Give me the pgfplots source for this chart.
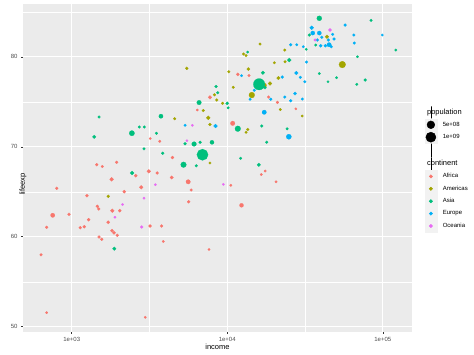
\documentclass[border=0pt]{standalone}
\usepackage{fontspec}
\setmainfont{Liberation Sans}
\usepackage{pgfplots}
\usepackage{pgfplotstable}
\pgfplotsset{compat=1.18}
\definecolor{afr}{HTML}{F8766D}
\definecolor{ame}{HTML}{A3A500}
\definecolor{asi}{HTML}{00BF7D}
\definecolor{eur}{HTML}{00B0F6}
\definecolor{oce}{HTML}{E76BF3}
\definecolor{panel}{HTML}{EBEBEB}
\definecolor{keybg}{HTML}{F2F2F2}
\definecolor{gthirty}{HTML}{4D4D4D}
\definecolor{gtwenty}{HTML}{333333}

% lx = log10(income), ly = life expectancy, pop = population (millions)
\pgfplotstableread{
lx ly pop
4.068 78.04 20
4.140 77.91 5
3.889 75.49 35
4.266 75.52 6
4.323 74.93 10
4.441 74.21 1
3.808 74.08 1
4.035 72.60 90
3.505 70.91 1
3.566 70.60 5
3.648 68.80 15
3.289 68.27 10
3.161 68.00 10
3.197 67.80 5
3.412 66.78 15
3.496 67.27 45
3.550 67.08 10
3.643 66.58 27
3.257 66.38 50
3.749 66.10 80
3.768 65.19 5
4.023 65.71 2
4.314 66.10 2
4.219 66.91 2
4.244 67.30 2
2.904 65.38 10
3.338 65.00 15
3.447 65.49 40
3.098 64.56 15
3.752 63.88 10
3.165 63.38 10
3.174 63.08 10
3.261 62.89 40
3.309 62.89 15
2.878 62.38 75
2.983 62.49 10
3.109 61.89 15
3.235 61.60 20
2.839 61.04 10
3.055 61.00 10
3.081 61.11 15
3.504 61.19 15
3.578 61.19 10
3.259 60.67 15
3.272 60.44 20
3.293 60.16 10
3.176 59.97 10
3.193 59.71 10
3.589 59.47 2
4.092 63.49 55
3.883 58.58 1
2.803 57.99 5
2.839 51.56 2
3.473 51.04 1
}\africa

\pgfplotstableread{
lx ly pop
3.740 78.71 11
4.105 80.30 5
4.121 80.13 3
4.211 81.41 4
4.370 80.74 5
4.372 79.44 5
4.303 79.33 3
4.010 78.33 5
4.136 78.63 18
4.039 76.60 5
4.237 76.80 125
4.275 77.02 43
4.158 75.74 205
3.918 75.77 5
3.933 75.19 7
3.970 74.82 6
3.846 74.02 6
3.878 73.21 48
3.889 72.47 10
3.662 73.11 5
4.132 71.91 7
4.121 71.60 3
4.341 74.13 3
4.482 73.41 1
4.329 77.63 31
4.740 79.13 320
3.889 68.19 1
3.235 64.49 10
4.641 82.22 36
}\americas

\pgfplotstableread{
lx ly pop
4.592 84.27 127
4.925 84.04 5
4.528 82.41 8
4.569 81.30 4
4.508 80.82 1
5.084 80.74 2
4.837 80.00 1
4.399 79.63 50
4.131 80.52 1
4.229 78.22 30
4.592 78.13 4
4.703 77.67 3
4.648 77.22 1
4.887 77.41 9
4.833 76.93 4
4.205 76.94 1370
4.243 76.56 10
3.928 76.69 10
3.939 76.00 5
4.000 74.82 20
4.006 74.32 3
3.819 74.91 92
4.222 72.30 5
4.385 71.99 4
4.068 72.00 200
4.254 70.50 5
3.574 73.39 70
3.435 72.19 5
3.467 72.19 5
3.176 73.30 5
3.387 71.50 160
3.545 71.49 5
3.145 71.10 30
3.465 69.77 5
3.585 69.27 10
3.729 70.33 8
3.787 70.30 100
3.826 70.49 10
3.902 70.49 60
3.841 69.11 1310
3.719 68.00 190
3.801 67.88 5
3.388 67.08 50
4.086 68.71 5
4.203 67.99 30
3.274 58.67 30
}\asia

\pgfplotstableread{
lx ly pop
4.758 83.52 8
4.543 83.22 46
4.550 82.63 64
4.592 82.63 64
4.678 82.49 5
4.997 82.41 1
4.814 82.41 5
4.608 82.16 10
4.579 81.86 11
4.650 81.86 9
4.687 81.97 8
4.601 81.22 17
4.631 81.22 10
4.655 81.33 81
4.669 81.11 5
4.817 81.52 5
4.408 81.33 10
4.447 81.33 2
4.489 81.11 2
4.510 79.41 5
4.354 77.74 10
4.444 78.19 38
4.470 77.71 5
4.499 77.22 5
4.174 76.27 5
4.147 75.27 3
4.280 75.28 7
4.370 75.52 5
4.436 75.91 20
4.408 75.11 10
4.483 75.30 4
4.238 73.83 78
4.092 77.89 3
3.729 72.38 4
3.925 72.30 45
4.396 71.11 143
}\europe

\pgfplotstableread{
lx ly pop
4.661 82.97 24
4.565 81.86 5
3.776 72.38 1
3.741 70.67 1
3.975 65.82 1
3.538 65.78 1
3.465 64.28 1
3.327 63.58 1
3.278 62.16 1
3.450 61.08 8
}\oceania

\pgfplotsset{
  ctry/.style={scatter, only marks, mark=*, forget plot, line width=0.2pt,
    scatter/use mapped color={draw=#1, fill=#1},
    visualization depends on={1.1+4.7*sqrt(\thisrow{pop}/1400) \as \msz},
    scatter/@pre marker code/.append style={/tikz/mark size=\msz}},
  keyimg/.style 2 args={legend image code/.code={
    \fill[keybg] (-6pt,-6pt) rectangle (6pt,6pt);
    \fill[#1] (0,0) circle (#2);}},
  titleimg/.style={legend image code/.code={\path (0,-6pt) rectangle (0,6pt);}},
}

\begin{document}
\begin{tikzpicture}
\useasboundingbox (-23pt,-23pt) rectangle (451pt,332pt);
\begin{axis}[
  at={(0,0)}, anchor=south west,
  scale only axis, width=389pt, height=328pt,
  xmin=2.687, xmax=5.188, ymin=49.41, ymax=85.86,
  axis background/.style={fill=panel},
  axis line style={draw=none},
  xtick={3,4,5}, xticklabels={1e+03,1e+04,1e+05},
  ytick={50,60,70,80}, yticklabels={50,60,70,80},
  minor xtick={3.5,4.5}, minor ytick={55,65,75,85},
  grid=both,
  major grid style={white, line width=0.75pt},
  minor grid style={white, line width=0.35pt},
  xtick pos=bottom, ytick pos=left,
  tick align=outside, major tick length=1.9pt, minor tick length=0pt,
  tick style={gtwenty, line width=0.4pt},
  ticklabel style={font=\fontsize{6}{7}\selectfont, text=gthirty},
  xlabel={income}, ylabel={lifeexp},
  every axis x label/.style={at={(axis description cs:0.5,0)}, anchor=center, yshift=-15pt, font=\fontsize{7.5}{9}\selectfont},
  every axis y label/.style={at={(axis description cs:0,0.5)}, anchor=center, rotate=90, xshift=-16pt, font=\fontsize{7.5}{9}\selectfont},
  legend style={draw=none, fill=none, at={(axis description cs:1.0321,0.689)}, anchor=north west,
    inner sep=0pt, row sep=0pt, column sep=3.7pt, font=\fontsize{6}{7}\selectfont},
  legend cell align=left,
]
\addplot[ctry=afr] table[x=lx, y=ly] {\africa};
\addplot[ctry=ame] table[x=lx, y=ly] {\americas};
\addplot[ctry=asi] table[x=lx, y=ly] {\asia};
\addplot[ctry=eur] table[x=lx, y=ly] {\europe};
\addplot[ctry=oce] table[x=lx, y=ly] {\oceania};

\addlegendimage{titleimg}
\addlegendentry{\hspace*{-15.7pt}\fontsize{7.5}{9}\selectfont population}
\addlegendimage{keyimg={black}{3.9pt}}
\addlegendentry{5e+08}
\addlegendimage{keyimg={black}{5.05pt}}
\addlegendentry{1e+09}
\addlegendimage{legend image code/.code={\path (0,-7pt) rectangle (0,7pt);}}
\addlegendentry{}
\addlegendimage{titleimg}
\addlegendentry{\hspace*{-15.7pt}\fontsize{7.5}{9}\selectfont continent}
\addlegendimage{keyimg={afr}{1.7pt}}
\addlegendentry{Africa}
\addlegendimage{keyimg={ame}{1.7pt}}
\addlegendentry{Americas}
\addlegendimage{keyimg={asi}{1.7pt}}
\addlegendentry{Asia}
\addlegendimage{keyimg={eur}{1.7pt}}
\addlegendentry{Europe}
\addlegendimage{keyimg={oce}{1.7pt}}
\addlegendentry{Oceania}
\end{axis}
\end{tikzpicture}
\end{document}
